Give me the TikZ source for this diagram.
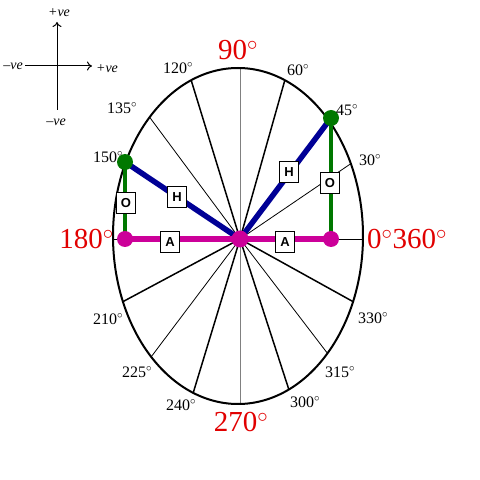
\documentclass[tikz,border=0pt]{standalone}
\usepackage{fontspec}
\setmainfont{Liberation Serif}
\setsansfont{Liberation Sans}
\usepackage{tikz}
\usetikzlibrary{positioning}
\usetikzlibrary{arrows.meta}
\definecolor{darkgreen}{RGB}{0,120,0}
\definecolor{darkblue}{RGB}{0,0,150}
\definecolor{pinkline}{RGB}{204,0,153}
\definecolor{bigred}{RGB}{225,0,0}
\newcommand{\dg}{$^{\circ}$}
\tikzset {
  % rim and spokes of the ellipse
  rim/.style = {line width=2pt},
  heavy/.style = {line width=1.5pt},
  light/.style = {line width=0.8pt},
  axisline/.style = {gray, line width=1pt},
  % the sides of the triangles
  hyp/.style = {darkblue, line width=5.5pt},
  opp/.style = {darkgreen, line width=3.5pt},
  adj/.style = {pinkline, line width=6pt},
  % letters on the sides
  side/.style = {draw, fill=white, font=\sffamily\bfseries\fontsize{13}{13}\selectfont,
    minimum width=19pt, minimum height=21pt, inner sep=1pt},
  deg/.style = {font=\fontsize{16}{16}\selectfont, inner sep=0pt},
  bigdeg/.style = {bigred, font=\fontsize{29}{29}\selectfont, inner sep=0pt},
  sign/.style = {font=\itshape\fontsize{14}{14}\selectfont, inner sep=0pt},
  pointer/.style = {-{To[length=5pt, width=9pt]}, line width=1pt},
}
\begin{document}
\begin{tikzpicture}[x=1pt, y=1pt]
  \useasboundingbox (0,0) rectangle (480,480);

  % sign legend
  \draw[pointer] (57,370) -- (57,458);
  \draw[pointer] (25,414) -- (92,414);
  \node[sign] (pu) at (59,467) {+ve};
  \node[sign] (nl) at (13,414) {\textendash ve};
  \node[sign] (pr) at (107,411) {+ve};
  \node[sign] (nd) at (56,358) {\textendash ve};

  \coordinate (c) at (238,244);
  \coordinate (o) at (240,241);

  % spokes
  \foreach \t in {68,112,203,249,294,337}
    \draw[heavy] (o) -- ([shift={(\t:125pt and 168pt)}]c);
  \foreach \t in {25.5,135,226,315.7}
    \draw[light] (o) -- ([shift={(\t:125pt and 168pt)}]c);
  \draw[axisline] (240,76) -- (240,412);
  \draw[light] (113,241) -- (363,241);
  \draw[rim] (c) ellipse [x radius=125pt, y radius=168pt];

  % triangles
  \coordinate (p45) at (331,362);
  \coordinate (f45) at (331,241);
  \coordinate (p150) at (125,318);
  \coordinate (f150) at (125,241);
  \draw[opp] (p45) -- (f45);
  \draw[opp] (p150) -- (f150);
  \draw[hyp] (o) -- (p45);
  \draw[hyp] (o) -- (p150);
  \draw[adj] (f150) -- (f45);
  \fill[darkgreen] (p45) circle (8pt);
  \fill[darkgreen] (p150) circle (8pt);
  \fill[pinkline] (f45) circle (8pt);
  \fill[pinkline] (f150) circle (8pt);
  \fill[pinkline] (o) circle (8.5pt);

  \node[side] (hl) at (177,283) {H};
  \node[side] (ol) at (126,277) {O};
  \node[side] (al) at (170,238) {A};
  \node[side] (ar) at (285,238) {A};
  \node[side] (hr) at (289,308) {H};
  \node[side] (or) at (330,297) {O};

  % angle labels
  \node[bigdeg] (d90) at (238,430) {90\dg};
  \node[bigdeg] (d270) at (241,58) {270\dg};
  \node[bigdeg, anchor=east] (d180) at (114,241) {180\dg};
  \node[bigdeg, anchor=west] (d0) at (367,241) {0\dg360\dg};
  \node[deg] (d120) at (178,412) {120\dg};
  \node[deg] (d60) at (298,410) {60\dg};
  \node[deg] (d135) at (122,372) {135\dg};
  \node[deg] (d45) at (347,370) {45\dg};
  \node[deg] (d150) at (108,323) {150\dg};
  \node[deg] (d30) at (370,320) {30\dg};
  \node[deg] (d210) at (108,161) {210\dg};
  \node[deg] (d330) at (373,162) {330\dg};
  \node[deg] (d225) at (137,108) {225\dg};
  \node[deg] (d315) at (340,108) {315\dg};
  \node[deg] (d240) at (181,75) {240\dg};
  \node[deg] (d300) at (305,78) {300\dg};
\end{tikzpicture}
\end{document}
